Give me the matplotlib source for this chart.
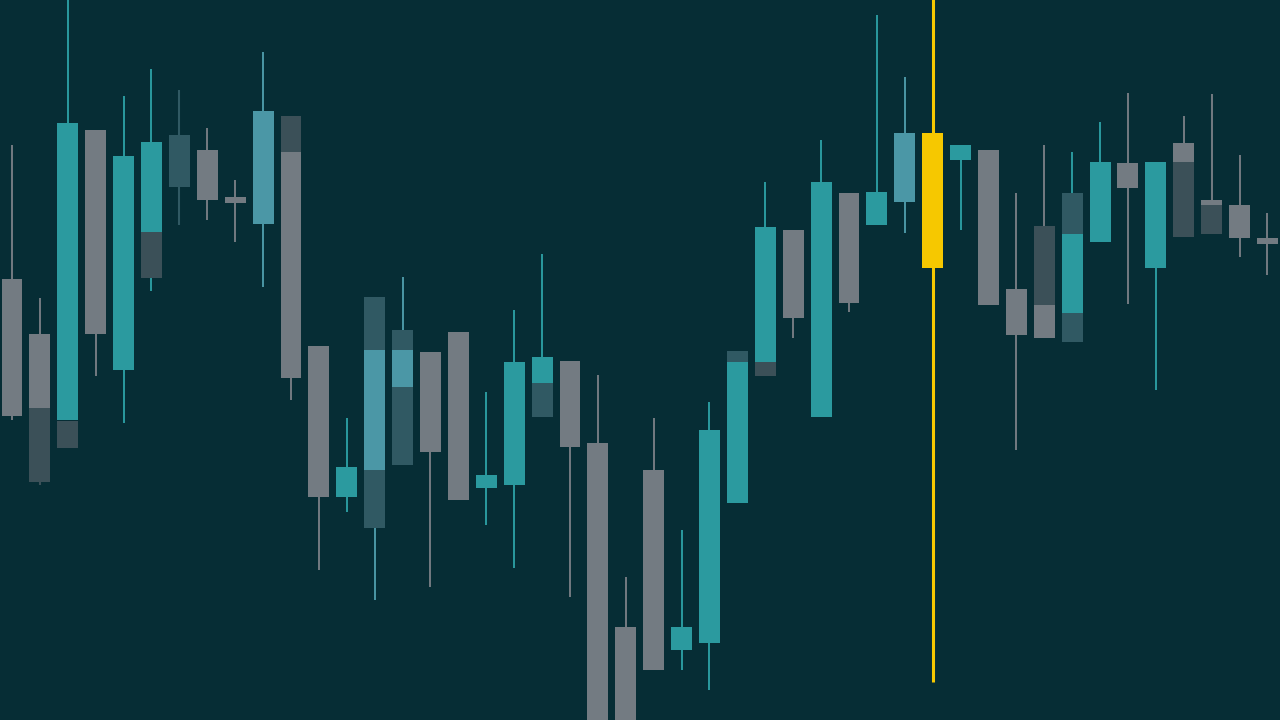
import numpy as np
import matplotlib
matplotlib.use("Agg")
import matplotlib.pyplot as plt

# main candles (price units, NaN = no candle at that slot)
nan = np.nan
opens = [441, 386, 300, 590, 350, 488, nan, 570, 523, 496, 568, 374, 223, 250, 333, 368,
         388, 232, 235, 337, 359, 277, 93, 250, 70, 77, 217, 358, 490, 303, 527, 495,
         518, 452, 560, 570, 431, 415, 407, 478, 557, 452, 577, 520, 515, 482]
highs = [575, 422, 745, 590, 624, 651, nan, 592, 540, 668, 568, 374, 302, 370, 443, 368,
         388, 328, 410, 466, 359, 345, 143, 302, 190, 318, 358, 538, 490, 580, 527, 705,
         643, 745, 575, 570, 527, 575, 568, 598, 627, 558, 604, 626, 565, 507]
lows = [300, 312, 300, 344, 297, 429, nan, 500, 478, 433, 320, 150, 208, 120, 333, 133,
        220, 195, 152, 337, 123, -20, -20, 50, 50, 30, 217, 358, 382, 303, 408, 495,
        487, 38, 490, 415, 270, 382, 407, 478, 416, 330, 558, 515, 463, 445]
closes = [304, 312, 597, 386, 564, 578, nan, 520, 517, 609, 342, 223, 253, 370, 370, 268,
          220, 245, 358, 363, 273, -20, -20, 50, 93, 290, 358, 493, 402, 538, 417, 528,
          587, 587, 575, 415, 385, 382, 486, 558, 532, 558, 558, 515, 482, 476]

# faded candles from the previous frame, behind the main ones
ghost_idx = [1, 2, 5, 6, 10, 13, 14, 19, 26, 27, 37, 38, 42, 43]
ghost_open = [312, 299, 488, 533, 604, 192, 255, 303, 358, 358, 494, 378, 558, 515]
ghost_close = [238, 272, 442, 585, 568, 423, 390, 337, 369, 344, 415, 527, 483, 486]
ghost_high = [312, 299, 488, 630, 604, 423, 390, 337, 369, 358, 494, 527, 558, 515]
ghost_low = [235, 272, 442, 495, 568, 192, 255, 303, 358, 344, 415, 378, 483, 486]

highlight_idx = 33
soft_idx = [9, 13, 14, 32]   # paler blue-teal candles

BG = '#062d35'
UP = '#2b9a9f'
SOFT = '#4b97a6'
DOWN = '#737b82'
YELLOW = '#f6c800'


def candle_colors(o, c, up_col, down_col):
    return [up_col if cc >= oo else down_col for oo, cc in zip(o, c)]


fig = plt.figure(figsize=(12.8, 7.2), dpi=100, facecolor=BG)
ax = fig.add_axes([0, 0, 1, 1])
ax.set_facecolor(BG)

# ghost layer
go, gh, gl, gc = map(np.asarray, (ghost_open, ghost_high, ghost_low, ghost_close))
gcols = candle_colors(go, gc, '#305963', '#3b5058')
ax.vlines(ghost_idx, gl, gh, colors=gcols, linewidth=1.5, zorder=1)
ax.bar(ghost_idx, np.abs(gc - go), bottom=np.minimum(go, gc), width=0.75,
       color=gcols, linewidth=0, zorder=2)

# main layer
o, h, l, c = map(np.asarray, (opens, highs, lows, closes))
idx = np.arange(len(o))
ok = ~np.isnan(o)
cols = candle_colors(o, c, UP, DOWN)
for k in soft_idx:
    cols[k] = SOFT
cols = np.array(cols, dtype=object)
ax.vlines(idx[ok], l[ok], h[ok], colors=list(cols[ok]), linewidth=1.4, zorder=1.5)
ax.bar(idx[ok], np.abs(c - o)[ok], bottom=np.minimum(o, c)[ok], width=0.75,
       color=list(cols[ok]), linewidth=0, zorder=3)

# highlighted candle with its long line
i = highlight_idx
ax.vlines(i, lows[i], highs[i], colors=YELLOW, linewidth=2.2, zorder=6)
ax.bar(i, abs(closes[i] - opens[i]), bottom=min(opens[i], closes[i]), width=0.75,
       color=YELLOW, zorder=7, linewidth=0)

ax.set_xlim(-0.43, 45.45)
ax.set_ylim(0, 720)
ax.axis('off')

fig.savefig('out.png', dpi=100, facecolor=BG)
